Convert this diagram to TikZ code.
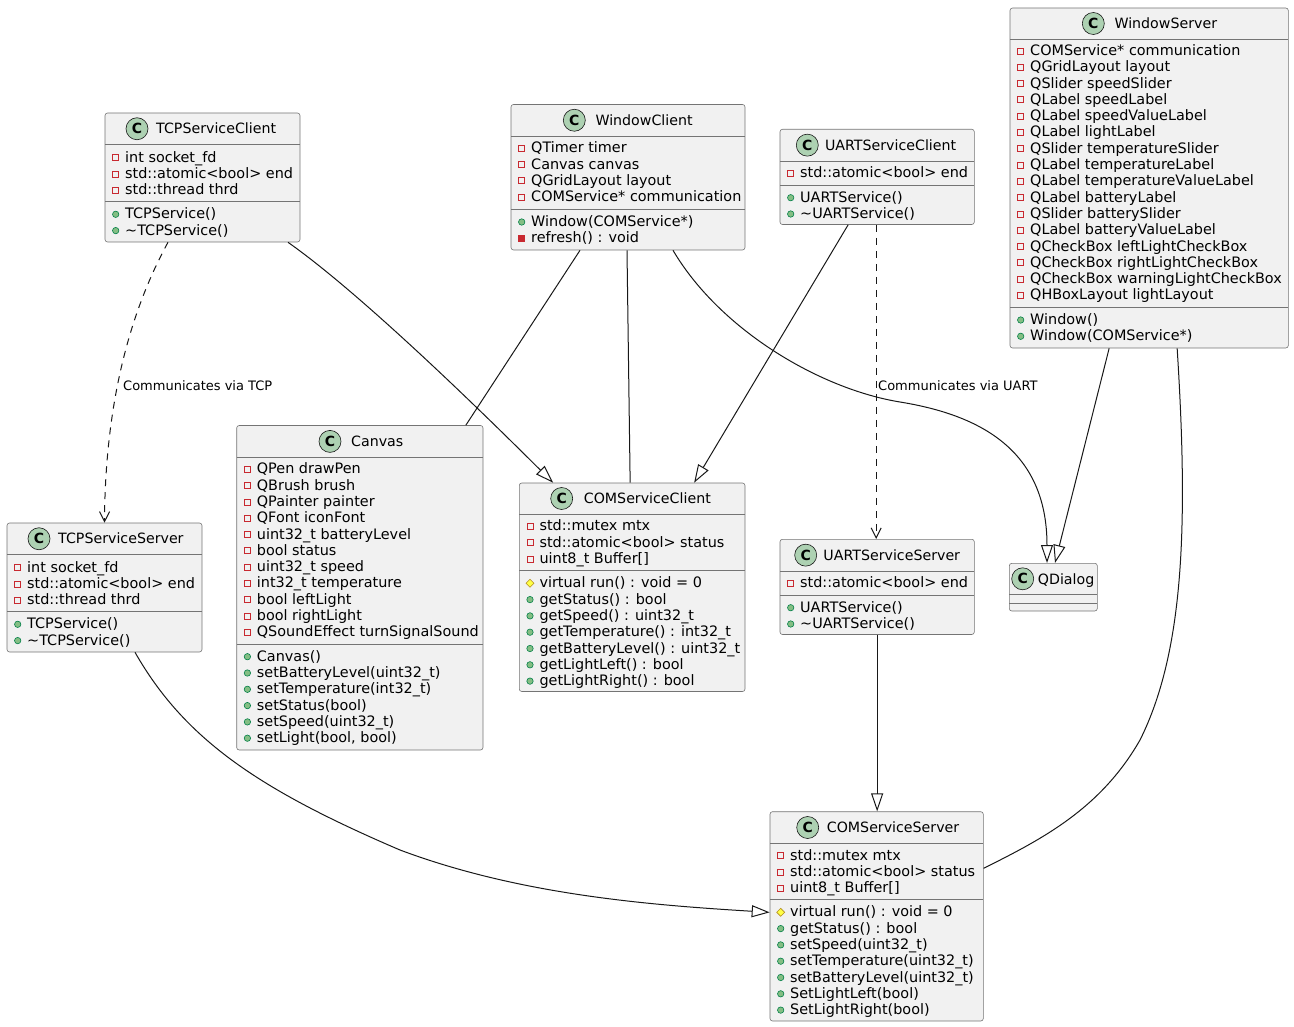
\documentclass[tikz,border=0pt]{standalone}
\usepackage{fontspec}
\setmainfont{DejaVu Sans}
\usepackage{tikz}
\usetikzlibrary{arrows.meta,fit}

\definecolor{boxfill}{HTML}{F1F1F1}
\definecolor{umlline}{HTML}{181818}
\definecolor{spotfill}{HTML}{ADD1B2}
\definecolor{privred}{HTML}{C82930}
\definecolor{pubfill}{HTML}{84BE84}
\definecolor{pubdraw}{HTML}{038048}
\definecolor{protfill}{HTML}{FFFF44}
\definecolor{protdraw}{HTML}{B38D22}

\tikzset{
  classbox/.style={draw=umlline!60, line width=0.6pt, fill=boxfill, rounded corners=2.5pt, inner sep=0pt},
  classline/.style={draw=umlline!60, line width=0.6pt},
  spot/.style={circle, draw=umlline, line width=0.6pt, fill=spotfill, minimum size=22pt, inner sep=0pt,
    font=\fontsize{14}{14}\selectfont\bfseries},
  classname/.style={anchor=base west, inner sep=0pt, font=\fontsize{14.2}{16}\selectfont},
  member/.style={anchor=base west, inner sep=0pt, font=\fontsize{14.4}{16}\selectfont},
  edgelabel/.style={anchor=west, inner sep=0pt, font=\fontsize{13}{15}\selectfont},
  umledge/.style={draw=umlline, line width=1pt},
  extends/.style={umledge, -{Triangle[open, length=18pt, width=12pt]}},
  depends/.style={umledge, dash pattern=on 7pt off 6pt, -{Straight Barb[length=10pt, width=10pt]}},
  privattr/.pic={\draw[privred, line width=0.8pt] (-3,-3) rectangle (3,3);},
  privop/.pic={\fill[privred] (-3.5,-3.5) rectangle (3.5,3.5);},
  pubop/.pic={\draw[pubdraw, fill=pubfill, line width=0.6pt] (0,0) circle (3.2pt);},
  protop/.pic={\draw[protdraw, fill=protfill, line width=0.6pt] (-4,0) -- (0,4) -- (4,0) -- (0,-4) -- cycle;},
}

% [name shift] name, left, top, right, bottom, header line, separator, spot x
\newcommand{\umlclass}[9][19]{%
  \node[classbox, fit={(#3,#4) (#5,#6)}] (#2) {};
  \draw[classline] (#3,#7) -- (#5,#7) (#3,#8) -- (#5,#8);
  \node[spot] (#2-spot) at (#9,{(#4+#7)/2}) {C};
  \node[classname] (#2-name) at (#9+#1,{(#4+#7)/2+5.2}) {#2};
}
% prefix, left, first line, icon, members
\newcommand{\umlmembers}[5]{%
  \foreach \mem [count=\k from 0] in {#5} {
    \pic at (#2+10.7,#3+16.3*\k) {#4};
    \node[member] (#1\k) at (#2+20,#3+16.3*\k+4.5) {\mem};
  }
}

\begin{document}
\begin{tikzpicture}[x=1pt,y=-1pt]
  \useasboundingbox (0,0) rectangle (1294,1027);

  \umlclass{TCPServiceClient}{105}{113}{300}{242}{144.5}{201.5}{137}
  \umlmembers{tcpc-a}{105}{157.7}{privattr}{int socket\_fd, std::atomic<bool> end, std::thread thrd}
  \umlmembers{tcpc-o}{105}{214.3}{pubop}{TCPService(), \textasciitilde TCPService()}

  \umlclass[21]{WindowClient}{511}{104.5}{745}{250}{136}{209}{574.3}
  \umlmembers{wc-a}{511}{148.3}{privattr}{QTimer timer, Canvas canvas, QGridLayout layout, COMService* communication}
  \umlmembers{wc-o}{511}{222}{pubop}{Window(COMService*)}
  \umlmembers{wc-p}{511}{238.3}{privop}{refresh() : void}

  \umlclass[17.5]{UARTServiceClient}{780}{129.3}{974.3}{224.5}{161}{185.5}{807.3}
  \umlmembers{uc-a}{780}{173.3}{privattr}{std::atomic<bool> end}
  \umlmembers{uc-o}{780}{197.7}{pubop}{UARTService(), \textasciitilde UARTService()}

  \umlclass[21]{WindowServer}{1010}{8}{1288.3}{348}{39}{307.7}{1093.3}
  \umlmembers{ws-a}{1010}{51}{privattr}{COMService* communication, QGridLayout layout, QSlider speedSlider,
    QLabel speedLabel, QLabel speedValueLabel, QLabel lightLabel, QSlider temperatureSlider,
    QLabel temperatureLabel, QLabel temperatureValueLabel, QLabel batteryLabel, QSlider batterySlider,
    QLabel batteryValueLabel, QCheckBox leftLightCheckBox, QCheckBox rightLightCheckBox,
    QCheckBox warningLightCheckBox, QHBoxLayout lightLayout}
  \umlmembers{ws-o}{1010}{320}{pubop}{Window(), Window(COMService*)}

  \umlclass[21]{Canvas}{236.7}{425.5}{483}{750}{457.3}{644.3}{330}
  \umlmembers{cv-a}{236.7}{469.3}{privattr}{QPen drawPen, QBrush brush, QPainter painter, QFont iconFont,
    uint32\_t batteryLevel, bool status, uint32\_t speed, int32\_t temperature, bool leftLight,
    bool rightLight, QSoundEffect turnSignalSound}
  \umlmembers{cv-o}{236.7}{656.7}{pubop}{Canvas(), setBatteryLevel(uint32\_t), setTemperature(int32\_t),
    setStatus(bool), setSpeed(uint32\_t), {setLight(bool, bool)}}

  \umlclass[22]{COMServiceClient}{519.3}{483}{745}{691.5}{514}{570.7}{561.7}
  \umlmembers{csc-a}{519.3}{526.3}{privattr}{std::mutex mtx, std::atomic<bool> status, {uint8\_t Buffer[]}}
  \umlmembers{csc-v}{519.3}{583.3}{protop}{virtual run() : void = 0}
  \umlmembers{csc-o}{519.3}{599.6}{pubop}{getStatus() : bool, getSpeed() : uint32\_t,
    getTemperature() : int32\_t, getBatteryLevel() : uint32\_t, getLightLeft() : bool, getLightRight() : bool}

  \umlclass{TCPServiceServer}{7}{523}{202}{652}{554.5}{611.5}{39}
  \umlmembers{tcps-a}{7}{567.7}{privattr}{int socket\_fd, std::atomic<bool> end, std::thread thrd}
  \umlmembers{tcps-o}{7}{624.3}{pubop}{TCPService(), \textasciitilde TCPService()}

  \umlclass[17.5]{UARTServiceServer}{780}{539.3}{974.3}{634.5}{571}{595.7}{805.7}
  \umlmembers{us-a}{780}{583.3}{privattr}{std::atomic<bool> end}
  \umlmembers{us-o}{780}{607.7}{pubop}{UARTService(), \textasciitilde UARTService()}

  \umlclass[15]{QDialog}{1009.3}{563.3}{1097.3}{611}{594.3}{603.3}{1022.7}

  \umlclass{COMServiceServer}{770}{811.7}{983.3}{1021}{843.3}{899.3}{807.7}
  \umlmembers{css-a}{770}{855.7}{privattr}{std::mutex mtx, std::atomic<bool> status, {uint8\_t Buffer[]}}
  \umlmembers{css-v}{770}{912.3}{protop}{virtual run() : void = 0}
  \umlmembers{css-o}{770}{928.6}{pubop}{getStatus() : bool, setSpeed(uint32\_t), setTemperature(uint32\_t),
    setBatteryLevel(uint32\_t), SetLightLeft(bool), SetLightRight(bool)}

  \draw[depends] ([xshift=-34.5pt]TCPServiceClient.south) .. controls (120,330) and (105,430) .. (TCPServiceServer.north);
  \node[edgelabel] (tcplabel) at (123,386) {Communicates via TCP};
  \draw[extends] ([xshift=85.5pt]TCPServiceClient.south) .. controls (370,300) and (510,440) .. ([xshift=-79pt]COMServiceClient.north);
  \draw[umledge] ([xshift=-48pt]WindowClient.south) -- ([xshift=106pt]Canvas.north);
  \draw[umledge] ([xshift=-1pt]WindowClient.south) -- ([xshift=-2pt]COMServiceClient.north);
  \draw[extends] ([xshift=45pt]WindowClient.south) .. controls (720,330) and (820,389) .. (900,402)
    .. controls (980,415) and (1047,450) .. ([xshift=-6.3pt]QDialog.north);
  \draw[extends] ([xshift=-29pt]UARTServiceClient.south) -- ([xshift=62pt]COMServiceClient.north);
  \draw[depends] ([xshift=-1pt]UARTServiceClient.south) -- ([xshift=-1pt]UARTServiceServer.north);
  \node[edgelabel] (uartlabel) at (878,386) {Communicates via UART};
  \draw[extends] ([xshift=-40pt]WindowServer.south) -- ([xshift=1.7pt]QDialog.north);
  \draw[umledge] ([xshift=28pt]WindowServer.south) .. controls (1188,520) and (1185,650) .. (1140,740)
    .. controls (1100,810) and (1040,840) .. ([yshift=48pt]COMServiceServer.east);
  \draw[extends] (UARTServiceServer.south) -- (UARTServiceServer.south |- COMServiceServer.north);
  \draw[extends] ([xshift=30.5pt]TCPServiceServer.south) .. controls (185,740) and (260,790) .. (400,850)
    .. controls (520,895) and (650,905) .. ([yshift=4pt]COMServiceServer.west);
\end{tikzpicture}
\end{document}
